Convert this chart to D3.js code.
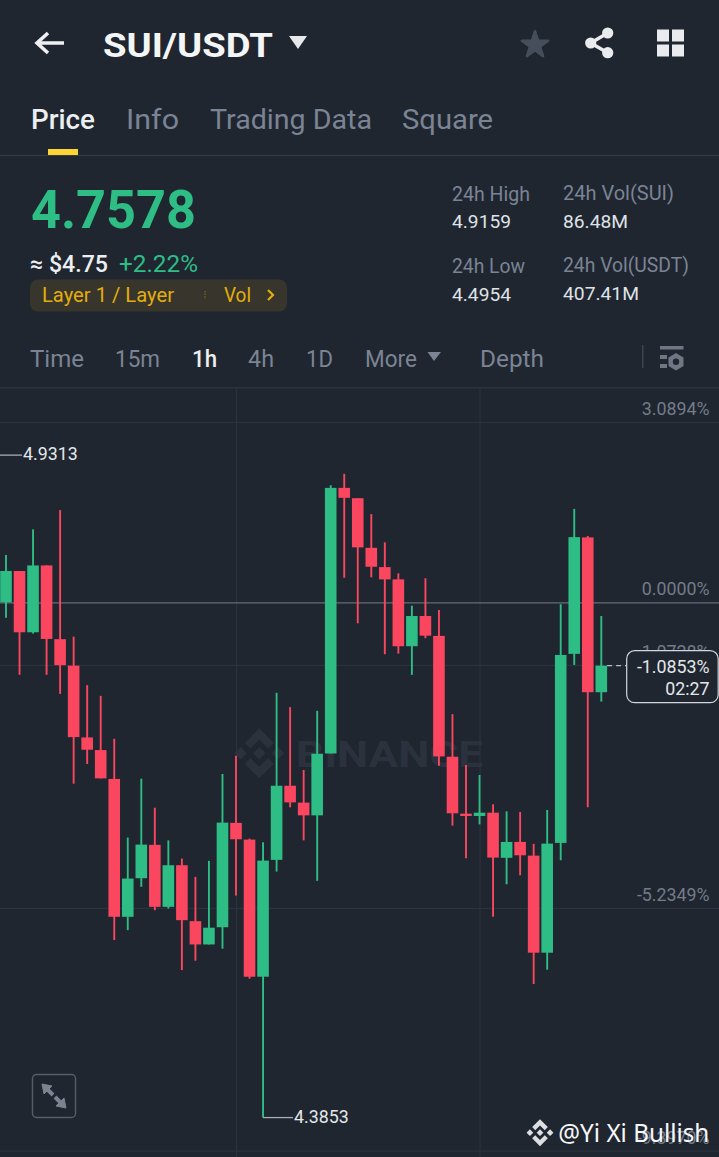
<!DOCTYPE html>
<html>
<head>
<meta charset="utf-8">
<script src="https://d3js.org/d3.v7.min.js"></script>
<style>
  html, body { margin: 0; padding: 0; background: #1f2630; }
  svg { display: block; }
  text { font-family: Roboto, sans-serif; }
</style>
</head>
<body>
<svg id="app" width="719" height="1157"></svg>
<script>
// 1h candles
const opens = [4.8100,4.8358,4.7853,4.8404,4.7796,4.7578,4.6986,4.6882,4.6644,4.5508,4.5826,4.6101,4.5590,4.5933,4.5472,4.5280,4.5422,4.6282,4.6144,4.5014,4.5977,4.6588,4.6449,4.6344,4.6854,4.9043,4.8958,4.8549,4.8390,4.8289,4.7738,4.7987,4.7823,4.6827,4.6358,4.6339,4.6366,4.5994,4.6125,4.6012,4.5212,4.6117,4.7675,4.8635,4.7359];
const closes = [4.8358,4.7853,4.8404,4.7798,4.7582,4.6989,4.6885,4.6649,4.5508,4.5823,4.6103,4.5590,4.5933,4.5480,4.5280,4.5418,4.6284,4.6147,4.5014,4.5971,4.6588,4.6451,4.6344,4.6852,4.9043,4.8961,4.8553,4.8393,4.8289,4.7738,4.7987,4.7825,4.6830,4.6361,4.6339,4.6366,4.5996,4.6125,4.6015,4.5212,4.6111,4.7666,4.8637,4.7359,4.7578];
const highs = [4.8489,4.8358,4.8701,4.8404,4.8860,4.7817,4.7417,4.7329,4.6975,4.6161,4.6646,4.6407,4.6138,4.5988,4.5837,4.5969,4.6685,4.6835,4.6152,4.6122,4.7354,4.7236,4.6718,4.7206,4.9065,4.9159,4.8958,4.8827,4.8594,4.8339,4.8072,4.8298,4.8037,4.7178,4.6759,4.6677,4.6435,4.6377,4.6372,4.6109,4.6389,4.8084,4.8870,4.8646,4.7987];
const lows = [4.7973,4.7502,4.7842,4.7502,4.7345,4.6605,4.6767,4.6649,4.5316,4.5398,4.5755,4.5562,4.5576,4.5069,4.5146,4.5280,4.5245,4.5683,4.4998,4.3853,4.5881,4.6410,4.6138,4.5804,4.6854,4.8302,4.7927,4.8306,4.7672,4.7677,4.7502,4.7804,4.6753,4.6259,4.5990,4.6270,4.5508,4.5776,4.5850,4.4954,4.5072,4.5974,4.7584,4.6410,4.7282];

const basePrice = 4.81;
const pctTicks = [3.0894, 0, -1.0728, -5.2349, -9.3970];
const pctLabels = ["3.0894%", "0.0000%", "-1.0728%", "-5.2349%", "-9.3970%"];
const timeGrid = [17, 35];
const offscreenHigh = 4.9313;
const chartLow = 4.3853;
const lastPct = "-1.0853%";
const countdown = "02:27";
const lastPrice = 4.7578;

const GREEN = "#2ebd85", RED = "#fb4660", BG = "#1f2630", GRID = "#2b323d";
const GREY = "#7b8494", LIGHT = "#e4e7ea", YELLOW = "#e3ae0c";

const svg = d3.select("#app");

function label(x, base, str, size, fill, weight, width, parent) {
  const t = (parent || svg).append("text")
    .attr("x", x).attr("y", base)
    .attr("font-size", size).attr("fill", fill)
    .attr("font-weight", weight || 400)
    .text(str);
  // the app font is narrower than anything installed, so fit each string to its measured width
  if (width) t.attr("textLength", width).attr("lengthAdjust", "spacingAndGlyphs");
  return t;
}

function binanceLogo(parent, cx, cy, s, fill) {
  const pieces = [
    "M0 -6L6 0L0 6L-6 0Z",
    "M0 -24L14 -10L8.5 -4.5L0 -13L-8.5 -4.5L-14 -10Z",
    "M0 24L14 10L8.5 4.5L0 13L-8.5 4.5L-14 10Z",
    "M-24 0L-18 -6L-12 0L-18 6Z",
    "M24 0L18 -6L12 0L18 6Z"
  ];
  const g = parent.append("g").attr("transform", `translate(${cx},${cy}) scale(${s})`).attr("fill", fill);
  pieces.forEach(d => g.append("path").attr("d", d));
}

//////// HEADER ----------------------------------------
const head = svg.append("g");
head.append("path")
  .attr("d", "M64 43H38M48 33L37 43L48 53")
  .attr("fill", "none").attr("stroke", "#eef0f2").attr("stroke-width", 3.6);
label(103, 57, "SUI/USDT", 34, "#f4f5f6", 700, 170);
head.append("path").attr("d", "M289 36H307L298 49Z").attr("fill", "#e6e8ea");

head.append("path")
  .attr("d", d3.symbol(d3.symbolStar, 215))
  .attr("transform", "translate(535,45)")
  .attr("fill", "#474e5b").attr("stroke", "#474e5b")
  .attr("stroke-width", 2.5).attr("stroke-linejoin", "round");

const shareNodes = [[607.7, 33], [590.7, 43], [607.7, 52.7]];
head.append("path")
  .attr("d", d3.line()(shareNodes))
  .attr("fill", "none").attr("stroke", "#e9ebee").attr("stroke-width", 3.5);
head.selectAll("circle.share").data(shareNodes).enter().append("circle")
  .attr("cx", d => d[0]).attr("cy", d => d[1]).attr("r", 5.6).attr("fill", "#e9ebee");

[[657, 29.5], [672, 29.5], [657, 44.5], [672, 44.5]].forEach(d => {
  head.append("rect").attr("x", d[0]).attr("y", d[1])
    .attr("width", 12).attr("height", 12).attr("fill", "#e9ebee");
});

label(31, 129, "Price", 28, "#eceef0", 500, 64);
label(126, 129, "Info", 28, GREY, 400, 53);
label(210, 129, "Trading Data", 28, GREY, 400, 162);
label(402, 129, "Square", 28, GREY, 400, 91);
svg.append("rect").attr("x", 48).attr("y", 149).attr("width", 30).attr("height", 6).attr("fill", "#fcd535");
svg.append("rect").attr("x", 0).attr("y", 155).attr("width", 719).attr("height", 1).attr("fill", "#353c47");

label(31, 228, "4.7578", 53, GREEN, 700, 165);
label(30, 272, "≈ $4.75", 23, "#eceef0", 500, 78);
label(119, 272, "+2.22%", 23, GREEN, 400, 79);

svg.append("rect").attr("x", 30).attr("y", 279.5).attr("width", 257).attr("height", 32).attr("rx", 8).attr("fill", "#38352c");
label(42, 302, "Layer 1 / Layer", 21, YELLOW, 400, 132);
svg.append("line").attr("x1", 205).attr("x2", 205).attr("y1", 291).attr("y2", 299)
  .attr("stroke", "#6b5d1f").attr("stroke-width", 1.5).attr("stroke-dasharray", "1.5,1");
label(224, 302, "Vol", 21, YELLOW, 400, 27);
svg.append("path").attr("d", "M268 290L273 295L268 300").attr("fill", "none")
  .attr("stroke", YELLOW).attr("stroke-width", 2.2);

label(452, 201, "24h High", 20, GREY, 400, 78);
label(452, 228, "4.9159", 19, "#dfe2e6", 400, 59);
label(563, 199.5, "24h Vol(SUI)", 20, GREY, 400, 111);
label(563, 228, "86.48M", 19, "#dfe2e6", 400, 65);
label(452, 273, "24h Low", 20, GREY, 400, 73);
label(452, 301, "4.4954", 19, "#dfe2e6", 400, 59);
label(563, 272, "24h Vol(USDT)", 20, GREY, 400, 126);
label(563, 300, "407.41M", 19, "#dfe2e6", 400, 76);

label(30, 367, "Time", 24, GREY, 400, 54);
label(115, 367, "15m", 24, GREY, 400, 45);
label(192, 367, "1h", 24, "#eceef0", 500, 25);
label(248, 367, "4h", 24, GREY, 400, 26);
label(306, 367, "1D", 24, GREY, 400, 27);
label(365, 367, "More", 24, GREY, 400, 52);
svg.append("path").attr("d", "M427.5 352H441L434 361Z").attr("fill", GREY);
label(480, 367, "Depth", 24, GREY, 400, 64);
svg.append("rect").attr("x", 642).attr("y", 345).attr("width", 1.5).attr("height", 23).attr("fill", "#3d4450");

// settings icon right of the toolbar
const cfg = svg.append("g").attr("fill", "#6f7785");
cfg.append("rect").attr("x", 660).attr("y", 346).attr("width", 23.5).attr("height", 3.5);
cfg.append("rect").attr("x", 660).attr("y", 355).attr("width", 7).attr("height", 4);
cfg.append("rect").attr("x", 660).attr("y", 364).attr("width", 7).attr("height", 4);
cfg.append("path").attr("d", "M676 353L683.5 357.5V366L676 370.5L668.5 366V357.5Z");
cfg.append("circle").attr("cx", 676).attr("cy", 361.7).attr("r", 3.2).attr("fill", BG);

svg.append("rect").attr("x", 0).attr("y", 387).attr("width", 719).attr("height", 1.5).attr("fill", GRID);

//////// CHART ----------------------------------------
const x = d3.scaleLinear().domain([0, 44]).range([6, 601.3]);
const yPct = d3.scaleLinear().domain([0, -9.397]).range([602.3, 1150.7]);
const y = d3.scaleLinear().domain([basePrice, basePrice * (1 - 0.09397)]).range(yPct.range());

const defs = svg.append("defs");
defs.append("clipPath").attr("id", "plot").append("rect")
  .attr("x", 0).attr("y", 388).attr("width", 719).attr("height", 769);
const plot = svg.append("g").attr("clip-path", "url(#plot)");

// vertical grid comes from the time scale
const xGrid = plot.append("g").attr("transform", "translate(0,388)")
  .call(d3.axisBottom(x).tickValues(timeGrid).tickSize(769).tickFormat(""));
xGrid.select(".domain").remove();
xGrid.selectAll("line").attr("stroke", GRID).attr("stroke-width", 1.2);

// horizontal grid
const yGrid = plot.append("g").attr("transform", "translate(719,0)")
  .call(d3.axisLeft(yPct).tickValues(pctTicks).tickSize(719).tickFormat(""));
yGrid.select(".domain").remove();
yGrid.selectAll("line")
  .attr("stroke", d => d === 0 ? "#666c78" : GRID)
  .attr("stroke-width", d => d === 0 ? 1.3 : 1.2);

// BINANCE watermark sits under the candles
binanceLogo(plot, 259.3, 753.3, 1.04, "#2b323d");
label(296, 767, "BINANCE", 37.5, "#2b323d", 700, 187, plot);

const candles = opens.map((o, i) => ({ i: i, o: o, c: closes[i], h: highs[i], l: lows[i] }));
const barW = 11.6;

plot.selectAll("line.wick").data(candles).enter().append("line")
  .attr("class", "wick")
  .attr("x1", d => x(d.i)).attr("x2", d => x(d.i))
  .attr("y1", d => y(d.h)).attr("y2", d => y(d.l))
  .attr("stroke", d => d.c >= d.o ? GREEN : RED)
  .attr("stroke-width", 1.9);

plot.selectAll("rect.body").data(candles).enter().append("rect")
  .attr("class", "body")
  .attr("x", d => x(d.i) - barW / 2)
  .attr("width", barW)
  .attr("y", d => y(Math.max(d.o, d.c)))
  .attr("height", d => Math.max(1.6, Math.abs(y(d.o) - y(d.c))))
  .attr("fill", d => d.c >= d.o ? GREEN : RED);

// percent labels go above the marks
const yAxis = plot.append("g").attr("transform", "translate(719,0)")
  .call(d3.axisLeft(yPct).tickValues(pctTicks).tickSize(0)
    .tickFormat((d, i) => pctLabels[i]));
yAxis.select(".domain").remove();
yAxis.selectAll("text")
  .attr("x", -9.5).attr("y", -7.6).attr("dy", 0)
  .attr("text-anchor", "end")
  .attr("font-family", "Roboto, sans-serif")
  .attr("font-size", 17.8)
  .attr("fill", "#737b89");

// high / low leaders
plot.append("line").attr("x1", 0).attr("x2", 22).attr("y1", y(offscreenHigh)).attr("y2", y(offscreenHigh))
  .attr("stroke", "#a8adb5").attr("stroke-width", 1.3);
label(23, y(offscreenHigh) + 5, String(offscreenHigh), 17.8, LIGHT);
plot.append("line").attr("x1", x(19)).attr("x2", 293).attr("y1", y(chartLow)).attr("y2", y(chartLow))
  .attr("stroke", "#a8adb5").attr("stroke-width", 1.3);
label(294, y(chartLow) + 5, String(chartLow), 17.8, LIGHT);

// last price tag
plot.append("line").attr("x1", x(44) + barW / 2).attr("x2", 627)
  .attr("y1", y(lastPrice)).attr("y2", y(lastPrice))
  .attr("stroke", "#b9bdc3").attr("stroke-width", 1.2).attr("stroke-dasharray", "5,4");
svg.append("rect").attr("x", 626.7).attr("y", 650.7).attr("width", 91.5).attr("height", 52).attr("rx", 8)
  .attr("fill", BG).attr("stroke", "#d3d6da").attr("stroke-width", 1.2);
label(709.5, 673, lastPct, 17.8, LIGHT).attr("text-anchor", "end");
label(709.5, 695, countdown, 17.8, LIGHT).attr("text-anchor", "end");

// expand button
svg.append("rect").attr("x", 32.5).attr("y", 1074.5).attr("width", 43).attr("height", 43).attr("rx", 4)
  .attr("fill", "none").attr("stroke", "#565d69").attr("stroke-width", 1.4);
const expand = svg.append("g").attr("fill", "#7b8390").attr("stroke", "#7b8390");
expand.append("path").attr("d", "M42 1084L52 1086L44 1094Z");
expand.append("path").attr("d", "M66 1108L56 1106L64 1098Z");
expand.append("path").attr("d", "M47 1089L53 1095M61 1103L55 1097").attr("stroke-width", 4);

// repost credit on top of everything
binanceLogo(svg, 540, 1132.7, 0.56, "#dcdee1");
label(558.3, 1142, "@Yi Xi Bullish", 26, "#f6f7f8", 400, 151)
  .style("font-family", "'Noto Sans', sans-serif");
</script>
</body>
</html>
